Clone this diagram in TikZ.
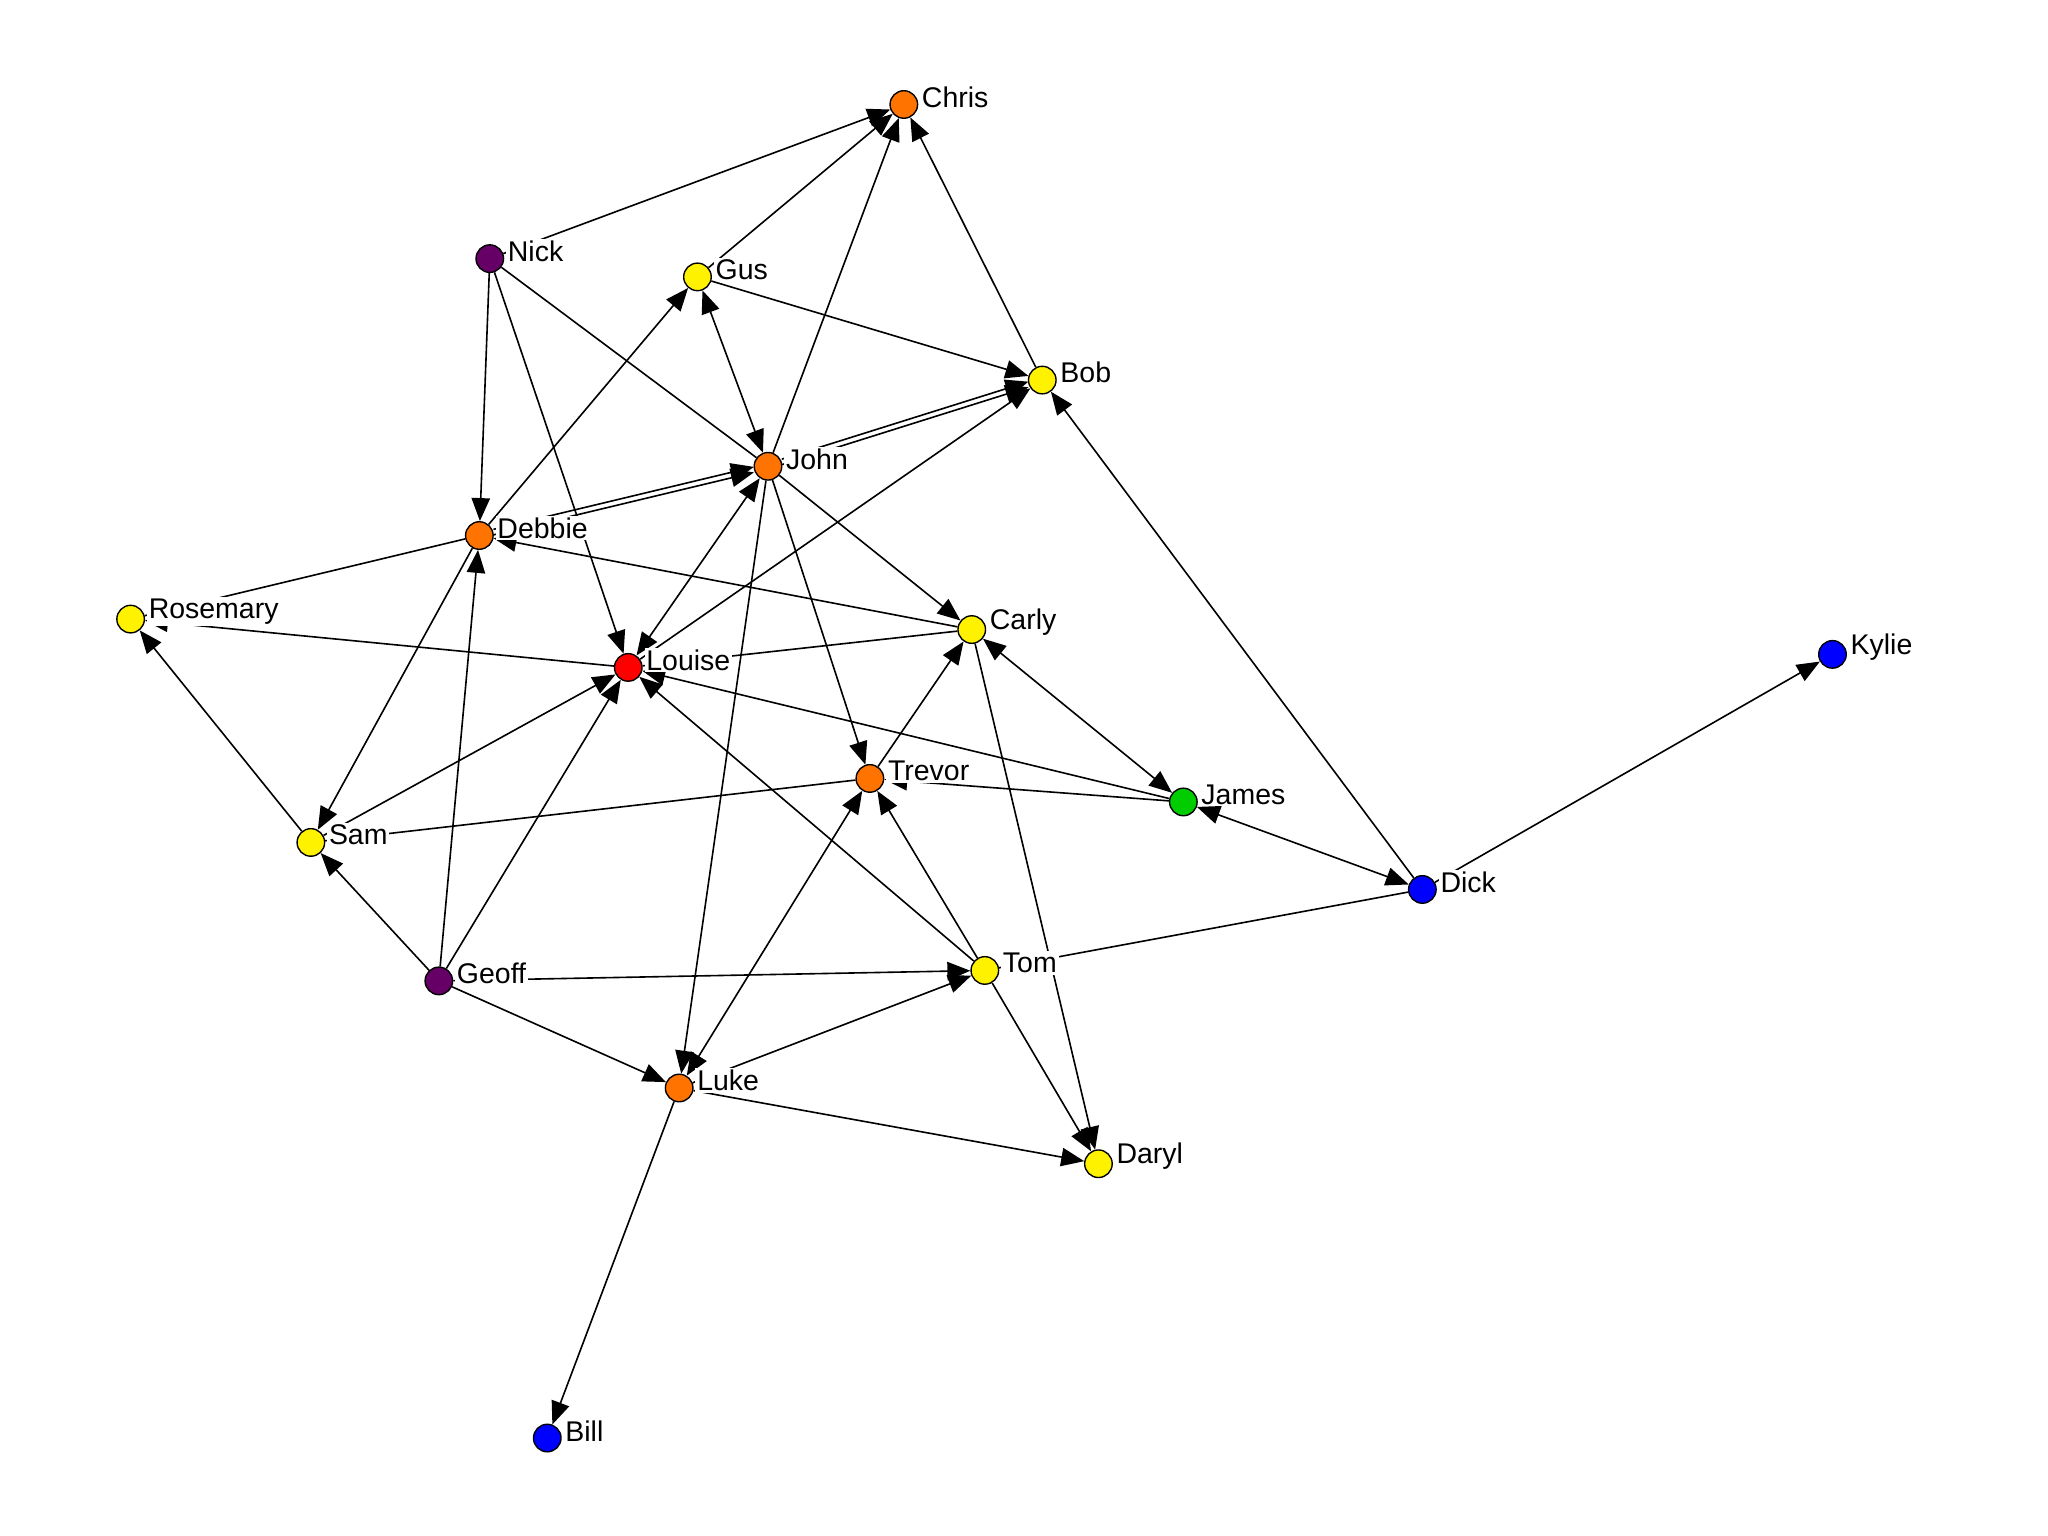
\documentclass[tikz,border=0pt]{standalone}
\usepackage{fontspec}
\setmainfont{Liberation Sans}
\usetikzlibrary{arrows.meta}
\pgfdeclarelayer{edges}
\pgfsetlayers{edges,main}
\begin{document}
\begin{tikzpicture}[x=0.01cm,y=-0.01cm,
  v/.style={circle,draw=black,line width=0.3pt,inner sep=0pt,minimum size=6pt,
    label={[font=\fontsize{6.2}{7}\selectfont,inner sep=0.4pt,fill=white,anchor=west,xshift=0.2pt,yshift=1.6pt]east:#1}},
  e/.style={line width=0.35pt,-{Triangle[length=5pt,width=4pt]}},
  eb/.style={line width=0.35pt,{Triangle[length=5pt,width=4pt]}-{Triangle[length=5pt,width=4pt]}},
  en/.style={line width=0.35pt},
  orn/.style={fill=orange!90!red},
  yel/.style={fill=yellow},
  pur/.style={fill=violet!80!black},
  blu/.style={fill=blue},
]
\begin{pgfonlayer}{edges}
\fill[white] (0,0) rectangle (1568,1176);
\end{pgfonlayer}
\useasboundingbox (0,0) rectangle (1568,1176);
\node[v=Chris,orn] (chris) at (692,80) {};
\node[v=Nick,pur] (nick) at (375,198) {};
\node[v=Gus,yel] (gus) at (534,212) {};
\node[v=Bob,yel] (bob) at (798,291) {};
\node[v=John,orn] (john) at (588,357) {};
\node[v=Debbie,orn] (debbie) at (367,410) {};
\node[v=Rosemary,yel] (rose) at (100,474) {};
\node[v=Louise,fill=red] (louise) at (481,511) {};
\node[v=Carly,yel] (carly) at (744,482) {};
\node[v=Kylie,blu] (kylie) at (1403,501) {};
\node[v=Trevor,orn] (trevor) at (666,596) {};
\node[v=James,fill=green!80!black] (james) at (906,614) {};
\node[v=Sam,yel] (sam) at (238,645) {};
\node[v=Dick,blu] (dick) at (1089,681) {};
\node[v=Geoff,pur] (geoff) at (336,751) {};
\node[v=Tom,yel] (tom) at (754,743) {};
\node[v=Luke,orn] (luke) at (520,833) {};
\node[v=Daryl,yel] (daryl) at (841,891) {};
\node[v=Bill,blu] (bill) at (419,1101) {};

\begin{pgfonlayer}{edges}
\draw[e] (nick) -- (chris);
\draw[e] (gus) -- (chris);
\draw[e] (john) -- (chris);
\draw[e] (bob) -- (chris);
\draw[e] (nick) -- (debbie);
\draw[e] (nick) -- (louise);
\draw[en] (nick) -- (john);
\draw[eb] (gus) -- (john);
\draw[e] (gus) -- (bob);
\draw[e,transform canvas={yshift=0.6pt}] (john) -- (bob);
\draw[e,transform canvas={yshift=-0.6pt}] (john) -- (bob);
\draw[e] (louise) -- (bob);
\draw[e,transform canvas={yshift=0.6pt}] (debbie) -- (john);
\draw[e,transform canvas={yshift=-0.6pt}] (debbie) -- (john);
\draw[e] (debbie) -- (gus);
\draw[e] (carly) -- (debbie);
\draw[en] (rose) -- (debbie);
\draw[e] (debbie) -- (sam);
\draw[e] (geoff) -- (debbie);
\draw[e] (john) -- (carly);
\draw[e] (john) -- (trevor);
\draw[e] (john) -- (luke);
\draw[eb] (louise) -- (john);
\draw[e] (louise) -- (rose);
\draw[e] (sam) -- (louise);
\draw[e] (geoff) -- (louise);
\draw[e] (tom) -- (louise);
\draw[e] (james) -- (louise);
\draw[en] (carly) -- (louise);
\draw[e] (trevor) -- (carly);
\draw[eb] (james) -- (carly);
\draw[e] (carly) -- (daryl);
\draw[en] (sam) -- (trevor);
\draw[e] (james) -- (trevor);
\draw[eb] (dick) -- (james);
\draw[e] (dick) -- (bob);
\draw[e] (dick) -- (kylie);
\draw[en] (tom) -- (dick);
\draw[e] (tom) -- (trevor);
\draw[e] (tom) -- (daryl);
\draw[e] (geoff) -- (tom);
\draw[e] (geoff) -- (sam);
\draw[e] (sam) -- (rose);
\draw[e] (geoff) -- (luke);
\draw[e] (luke) -- (tom);
\draw[eb] (luke) -- (trevor);
\draw[e] (luke) -- (daryl);
\draw[e] (luke) -- (bill);
\end{pgfonlayer}
\end{tikzpicture}
\end{document}
